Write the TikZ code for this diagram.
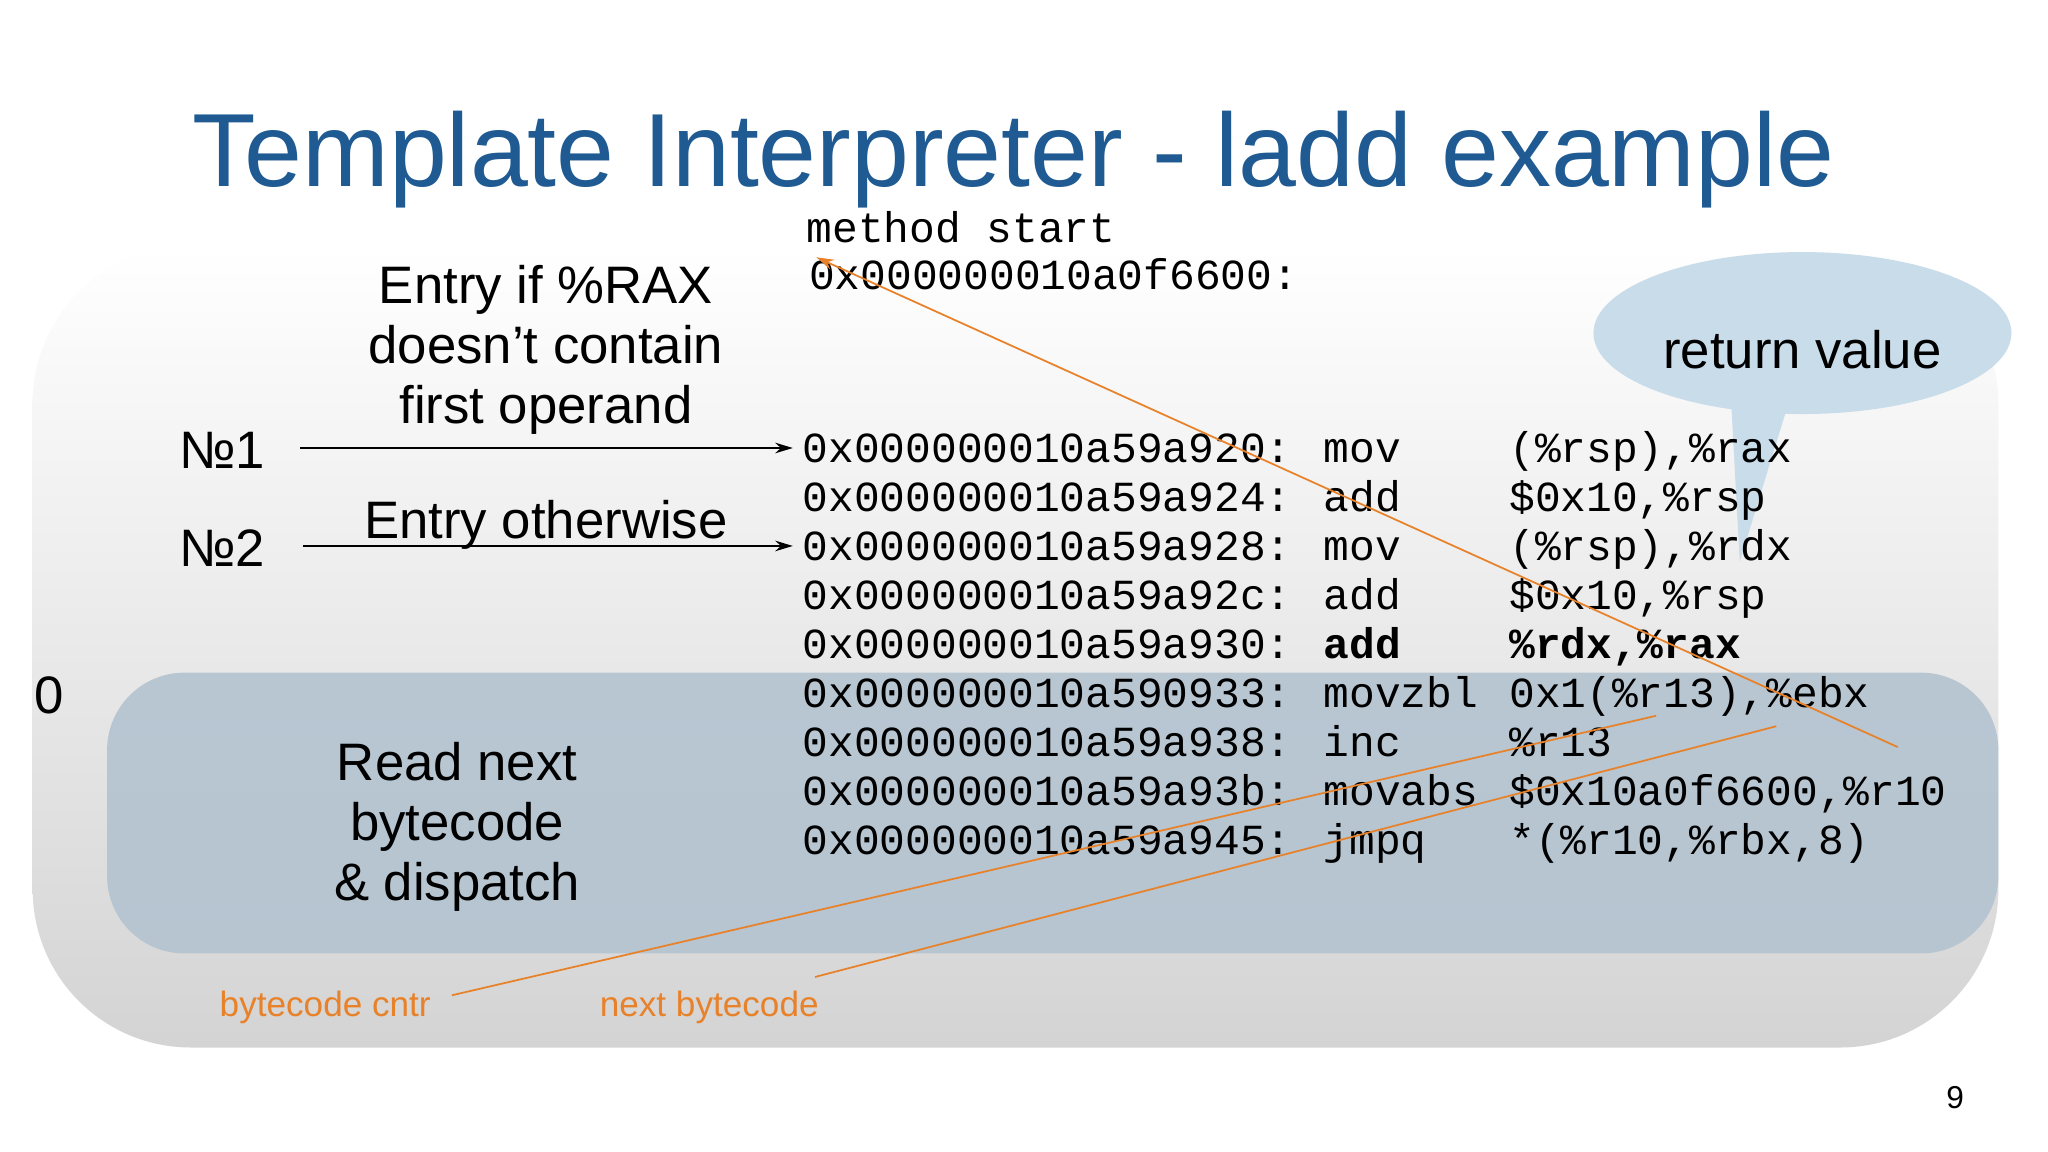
\documentclass[tikz,border=0pt]{standalone}
\usepackage{fontspec}
\setmainfont{Liberation Sans}
\setmonofont{Liberation Mono}
\usetikzlibrary{arrows.meta,shapes.geometric}
\definecolor{ttl}{HTML}{1F5A92}
\definecolor{orng}{HTML}{E8822A}
\definecolor{bluebox}{HTML}{B3C3D0}
\definecolor{bubble}{HTML}{C9DCEA}
\tikzset{
 code/.style={anchor=base west,inner sep=0pt,font=\ttfamily\fontsize{12.2}{14}\selectfont},
 lbl/.style={inner sep=0pt,font=\fontsize{15}{18}\selectfont,align=center},
 olbl/.style={inner sep=0pt,font=\fontsize{10}{12}\selectfont,text=orng},
 oline/.style={draw=orng,line width=0.5pt},
 entry/.style={-{Stealth[length=5pt,width=3pt]},line width=0.6pt}
}
\begin{document}
\begin{tikzpicture}[x=0.01306cm,y=-0.01306cm]
\useasboundingbox[fill=white] (0,0) rectangle (1568,882);
\shade[top color=white,bottom color=black!17,rounded corners=45pt] (25,188) rectangle (1530,802);
\fill[bluebox,rounded corners=22pt,opacity=0.9] (82,515) rectangle (1530,730);
\fill[bubble] (1325,300) -- (1332,430) -- (1372,300) -- cycle;
\node[ellipse,fill=bubble,minimum width=4.18cm,minimum height=1.62cm] (bub) at (1380,255) {};
\node[lbl] (rv) at (1380,268) {return value};
\node[inner sep=0pt,text=ttl,font=\fontsize{29.6}{34}\selectfont] (title) at (776,122) {Template Interpreter - ladd example};
\node[code] (ms) at (617,186) {method start};
\node[code] (ms2) at (619,222) {0x000000010a0f6600:};
\foreach \i/\a/\b/\c in {0/0x000000010a59a920:/mov/{(\%rsp),\%rax},
 1/0x000000010a59a924:/add/{\$0x10,\%rsp},
 2/0x000000010a59a928:/mov/{(\%rsp),\%rdx},
 3/0x000000010a59a92c:/add/{\$0x10,\%rsp},
 5/0x000000010a590933:/movzbl/{0x1(\%r13),\%ebx},
 6/0x000000010a59a938:/inc/{\%r13},
 7/0x000000010a59a93b:/movabs/{\$0x10a0f6600,\%r10},
 8/0x000000010a59a945:/jmpq/{*(\%r10,\%rbx,8)}}{
 \node[code] (a\i) at (614,354+37.5*\i) {\a};
 \node[code] (b\i) at (1013,354+37.5*\i) {\b};
 \node[code] (c\i) at (1155,354+37.5*\i) {\c};
}
\node[code] (a4) at (614,504) {0x000000010a59a930:};
\node[code] (b4) at (1013,504) {\textbf{add}};
\node[code] (c4) at (1155,504) {\textbf{\%rdx,\%rax}};
\node[lbl] (e1) at (418,268) {Entry if \%RAX\\[-1pt]doesn’t contain\\[-1pt]first operand};
\node[lbl] (n1) at (170,345) {№1};
\node[lbl] (n2) at (170,420) {№2};
\node[lbl] (e2) at (418,402) {Entry otherwise};
\coordinate (s1) at (230,343); \coordinate (t1) at (607,343);
\coordinate (s2) at (232,418); \coordinate (t2) at (607,418);
\draw[entry] (s1) -- (t1);
\draw[entry] (s2) -- (t2);
\node[lbl] (zero) at (38,532) {0};
\node[lbl] (rn) at (350,633) {Read next\\[-1pt]bytecode\\[-1pt]\& dispatch};
\node[olbl] (bc) at (249,771) {bytecode cntr};
\node[olbl] (nb) at (543,771) {next bytecode};
\node[inner sep=0pt,font=\fontsize{9}{10}\selectfont] (pg) at (1497,840) {9};
\coordinate (o1s) at (1453,572); \coordinate (o1e) at (625,197);
\coordinate (o2s) at (346,762); \coordinate (o2e) at (1268,548);
\coordinate (o3s) at (624,748); \coordinate (o3e) at (1360,556);
\draw[oline,-{Stealth[length=5pt,width=3pt]}] (o1s) -- (o1e);
\draw[oline] (o2s) -- (o2e);
\draw[oline] (o3s) -- (o3e);
\end{tikzpicture}
\end{document}
